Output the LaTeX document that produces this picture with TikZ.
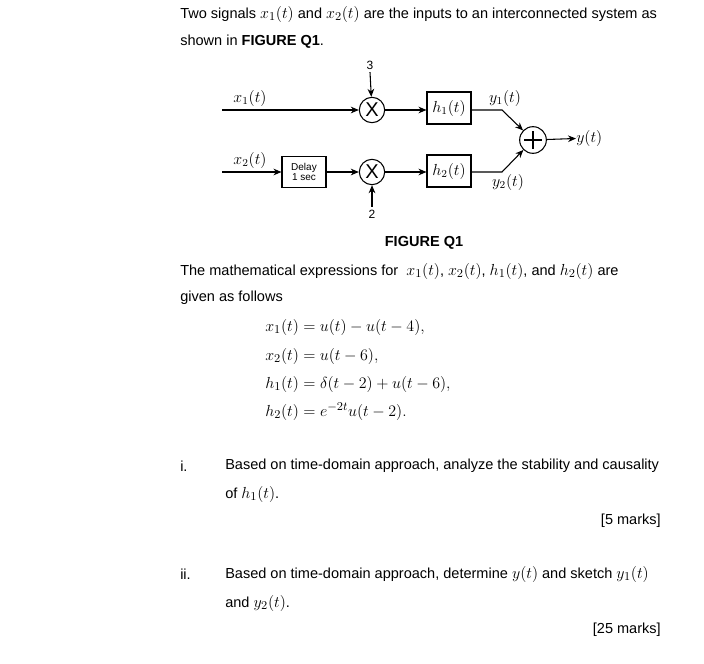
\documentclass[tikz,border=0pt]{standalone}
\usepackage{fontspec}
\setmainfont{Liberation Sans}
\usetikzlibrary{arrows.meta}
\newcommand{\mt}[1]{{\fontsize{13}{13}\selectfont$#1$}}
\begin{document}
\begin{tikzpicture}[x=0.75pt,y=-0.75pt,
  txt/.style={anchor=west,inner sep=0,font=\fontsize{10.9}{12}\selectfont},
  blk/.style={draw,thick,minimum width=33pt,minimum height=24pt,inner sep=0,font=\fontsize{12}{12}\selectfont},
  mul/.style={draw,thick,circle,minimum size=19pt,inner sep=0,font=\fontsize{15}{15}\selectfont},
  arr/.style={-{Stealth[length=6pt,width=5pt]},thick},
  lbl/.style={inner sep=0,font=\fontsize{12}{12}\selectfont}]
\useasboundingbox (0,0) rectangle (704,664);
% text
\node[txt] (t1) at (180,14) {Two signals \mt{x_1(t)} and \mt{x_2(t)} are the inputs to an interconnected system as};
\node[txt] (t2) at (180,42) {shown in \textbf{FIGURE Q1}.};
\node[inner sep=0,font=\fontsize{10.9}{12}\selectfont\bfseries] (cap) at (424,243) {FIGURE Q1};
\node[txt] (t3) at (180,271) {The mathematical expressions for \ \mt{x_1(t)}, \mt{x_2(t)}, \mt{h_1(t)}, and \mt{h_2(t)} are};
\node[txt] (t4) at (180,298) {given as follows};
\node[txt,anchor=base west,font=\fontsize{13}{13}\selectfont] (e1) at (265,331) {$x_1(t)=u(t)-u(t-4),$};
\node[txt,anchor=base west,font=\fontsize{13}{13}\selectfont] (e2) at (265,360) {$x_2(t)=u(t-6),$};
\node[txt,anchor=base west,font=\fontsize{13}{13}\selectfont] (e3) at (265,388) {$h_1(t)=\delta(t-2)+u(t-6),$};
\node[txt,anchor=base west,font=\fontsize{13}{13}\selectfont] (e4) at (265,416) {$h_2(t)=e^{-2t}u(t-2).$};
\node[txt] (i1) at (180,466) {i.};
\node[txt] (i2) at (225,466) {Based on time-domain approach, analyze the stability and causality};
\node[txt] (i3) at (225,494) {of \mt{h_1(t)}.};
\node[txt,anchor=east] (i4) at (661,521) {[5 marks]};
\node[txt] (j1) at (180,574) {ii.};
\node[txt] (j2) at (225,574) {Based on time-domain approach, determine \mt{y(t)} and sketch \mt{y_1(t)}};
\node[txt] (j3) at (225,603) {and \mt{y_2(t)}.};
\node[txt,anchor=east] (j4) at (661,630) {[25 marks]};
% diagram
\coordinate (x1s) at (222,110);
\coordinate (x2s) at (222,172);
\node[mul] (m1) at (372,110) {X};
\node[mul] (m2) at (372,172) {X};
\node[blk] (h1) at (449,108) {$h_1(t)$};
\node[blk] (h2) at (449,171) {$h_2(t)$};
\node[blk,minimum width=33pt,minimum height=23pt,font=\fontsize{7.5}{8}\selectfont,align=center] (d) at (304,172) {Delay\\[-1pt]1 sec};
\node[mul,minimum size=20pt] (s) at (533,140) {};
\draw[thick] (533,131) -- (533,149) (524,140) -- (542,140);
\node[lbl] (c3) at (370,65) {\fontsize{9}{9}\selectfont 3};
\node[lbl] (c2) at (372,214) {\fontsize{9}{9}\selectfont 2};
\node[lbl] (lx1) at (250,98) {$x_1(t)$};
\node[lbl] (lx2) at (250,160) {$x_2(t)$};
\node[lbl] (ly1) at (505,98) {$y_1(t)$};
\node[lbl] (ly2) at (508,182) {$y_2(t)$};
\node[lbl,anchor=west] (ly) at (576,138) {$y(t)$};
\coordinate (k1) at (502,110);
\coordinate (k2) at (502,172);
\draw[arr] (x1s) -- (m1);
\draw[arr] (x2s) -- (d);
\draw[arr] (d) -- (m2);
\draw[arr] (m1) -- (h1.west |- m1);
\draw[arr] (m2) -- (h2.west |- m2);
\draw[arr] (h1.east |- k1) -- (k1) -- (s);
\draw[arr] (h2.east |- k2) -- (k2) -- (s);
\draw[arr] (s) -- (ly);
\draw[arr] ([yshift=-2]c3.south) -- (m1);
\draw[arr] ([yshift=2]c2.north) -- (m2);
\end{tikzpicture}
\end{document}
